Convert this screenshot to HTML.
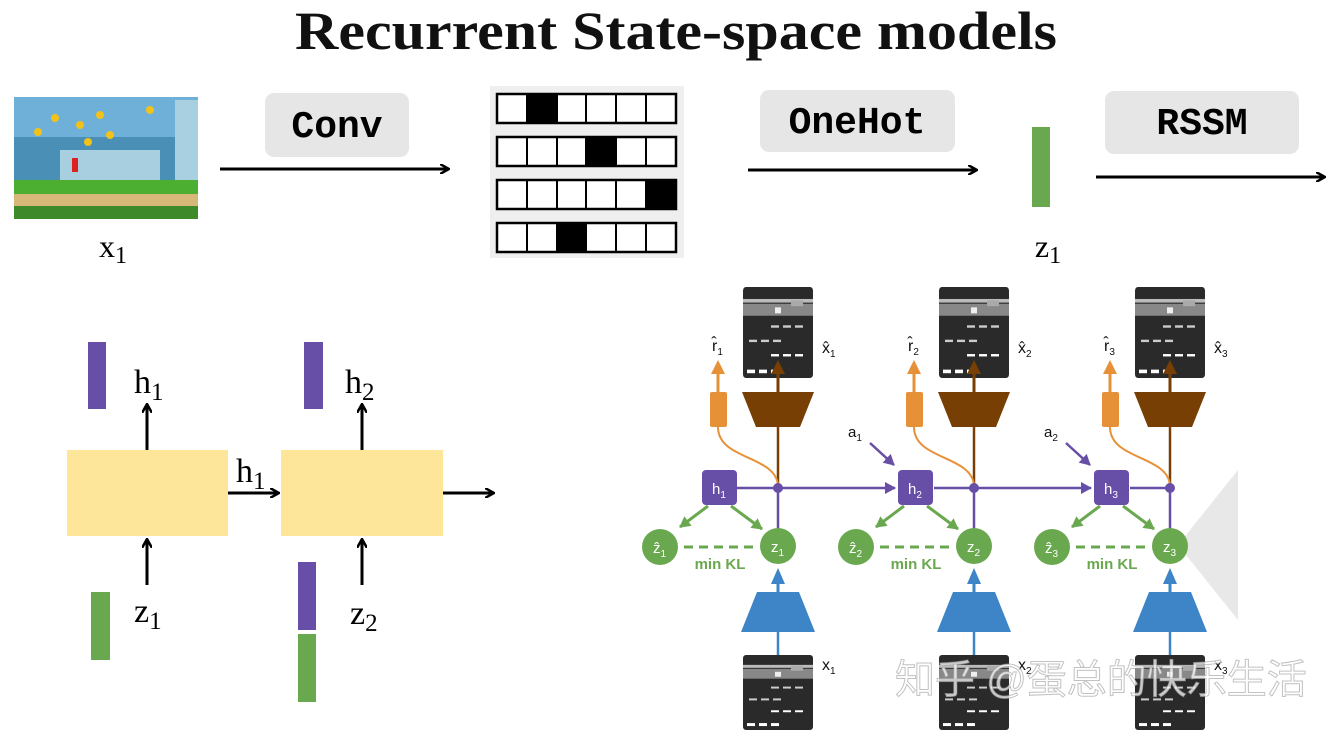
<!DOCTYPE html>
<html><head><meta charset="utf-8"><style>
html,body{margin:0;padding:0;background:#fff;width:1336px;height:736px;overflow:hidden}
svg{display:block}
.ser{font-family:"Liberation Serif","DejaVu Serif",serif}
.mono{font-family:"Liberation Mono","DejaVu Sans Mono",monospace;font-weight:bold}
.sans{font-family:"Liberation Sans","DejaVu Sans",sans-serif}
</style></head><body>
<svg width="1336" height="736" viewBox="0 0 1336 736" xmlns="http://www.w3.org/2000/svg">
<defs>
<marker id="ab" markerWidth="10" markerHeight="10" refX="8" refY="5" orient="auto" markerUnits="userSpaceOnUse"><path d="M0,0 L9,5 L0,10" fill="none" stroke="#000" stroke-width="2.5"/></marker>
<symbol id="scr" viewBox="0 0 70 76" preserveAspectRatio="none">
<rect x="0" y="0" width="70" height="76" rx="3" fill="#2a2a2a"/>
<rect x="0" y="10" width="70" height="3" fill="#bbb"/>
<rect x="0" y="14" width="70" height="10" fill="#888"/>
<rect x="48" y="11" width="12" height="5" fill="#aaa"/>
<rect x="32" y="17" width="6" height="5" fill="#eee"/>
<g fill="#ccc"><rect x="28" y="32" width="8" height="2"/><rect x="40" y="32" width="8" height="2"/><rect x="52" y="32" width="8" height="2"/>
<rect x="6" y="44" width="8" height="2"/><rect x="18" y="44" width="8" height="2"/><rect x="30" y="44" width="8" height="2"/>
<rect x="28" y="56" width="8" height="2" fill="#fff"/><rect x="40" y="56" width="8" height="2" fill="#fff"/><rect x="52" y="56" width="8" height="2" fill="#fff"/>
<rect x="4" y="69" width="8" height="3" fill="#fff"/><rect x="16" y="69" width="8" height="3" fill="#fff"/><rect x="28" y="69" width="8" height="3" fill="#fff"/></g>
</symbol>
</defs>

<text x="295" y="49" textLength="762" lengthAdjust="spacingAndGlyphs" class="ser" font-weight="bold" font-size="54" fill="#111">Recurrent State-space models</text>

<!-- Mario image -->
<rect x="14" y="97" width="184" height="122" fill="#4a8fb5"/>
<rect x="14" y="97" width="184" height="40" fill="#6fb0d8"/>
<rect x="60" y="150" width="100" height="30" fill="#a8cfe0"/>
<rect x="175" y="100" width="23" height="80" fill="#a8d0e0"/>
<rect x="14" y="180" width="184" height="14" fill="#4caf32"/>
<rect x="14" y="194" width="184" height="12" fill="#d8b878"/>
<rect x="14" y="206" width="184" height="13" fill="#3e8a2a"/>
<g fill="#f2c21a"><circle cx="38" cy="132" r="4"/><circle cx="55" cy="118" r="4"/><circle cx="80" cy="125" r="4"/><circle cx="110" cy="135" r="4"/><circle cx="100" cy="115" r="4"/><circle cx="150" cy="110" r="4"/><circle cx="88" cy="142" r="4"/></g>
<rect x="72" y="158" width="6" height="14" fill="#d22"/>
<text x="113" y="257" text-anchor="middle" class="ser" font-size="32">x<tspan font-size="24" dy="6">1</tspan></text>

<rect x="265" y="93" width="144" height="64" rx="9" fill="#e6e6e6"/>
<text x="337" y="137" text-anchor="middle" class="mono" font-size="38">Conv</text>
<line x1="220" y1="169" x2="448" y2="169" stroke="#000" stroke-width="3" marker-end="url(#ab)"/>

<rect x="490" y="86" width="194" height="172" fill="#efefef"/>
<g stroke="#000" stroke-width="2.5" fill="#fff">
<rect x="497" y="94" width="179" height="29"/>
<rect x="497" y="137" width="179" height="29"/>
<rect x="497" y="180" width="179" height="29"/>
<rect x="497" y="223" width="179" height="29"/>
</g>
<g fill="#000">
<rect x="527" y="94" width="30" height="29"/>
<rect x="586" y="137" width="30" height="29"/>
<rect x="646" y="180" width="30" height="29"/>
<rect x="556" y="223" width="30" height="29"/>
</g>
<g stroke="#000" stroke-width="2">
<path d="M527,94V123M557,94V123M586,94V123M616,94V123M646,94V123"/>
<path d="M527,137V166M557,137V166M586,137V166M616,137V166M646,137V166"/>
<path d="M527,180V209M557,180V209M586,180V209M616,180V209M646,180V209"/>
<path d="M527,223V252M557,223V252M586,223V252M616,223V252M646,223V252"/>
</g>

<rect x="760" y="90" width="195" height="62" rx="9" fill="#e6e6e6"/>
<text x="857" y="133" text-anchor="middle" class="mono" font-size="38">OneHot</text>
<line x1="748" y1="170" x2="976" y2="170" stroke="#000" stroke-width="3" marker-end="url(#ab)"/>
<rect x="1032" y="127" width="18" height="80" fill="#6aa84f"/>
<text x="1048" y="257" text-anchor="middle" class="ser" font-size="32">z<tspan font-size="24" dy="6">1</tspan></text>
<rect x="1105" y="91" width="194" height="63" rx="9" fill="#e6e6e6"/>
<text x="1202" y="134" text-anchor="middle" class="mono" font-size="38">RSSM</text>
<line x1="1096" y1="177" x2="1324" y2="177" stroke="#000" stroke-width="3" marker-end="url(#ab)"/>

<!-- bottom left -->
<rect x="88" y="342" width="18" height="67" fill="#674ea7"/>
<rect x="304" y="342" width="19" height="67" fill="#674ea7"/>
<rect x="67" y="450" width="161" height="86" fill="#fde69a"/>
<rect x="281" y="450" width="162" height="86" fill="#fde69a"/>
<g stroke="#000" stroke-width="3" marker-end="url(#ab)">
<line x1="147" y1="450" x2="147" y2="405"/>
<line x1="362" y1="450" x2="362" y2="405"/>
<line x1="147" y1="585" x2="147" y2="540"/>
<line x1="362" y1="585" x2="362" y2="540"/>
<line x1="228" y1="493" x2="278" y2="493"/>
<line x1="443" y1="493" x2="493" y2="493"/>
</g>
<g class="ser" font-size="34">
<text x="134" y="393">h<tspan font-size="25" dy="7">1</tspan></text>
<text x="345" y="393">h<tspan font-size="25" dy="7">2</tspan></text>
<text x="236" y="482">h<tspan font-size="25" dy="7">1</tspan></text>
<text x="134" y="622">z<tspan font-size="25" dy="7">1</tspan></text>
<text x="350" y="624">z<tspan font-size="25" dy="7">2</tspan></text>
</g>
<rect x="91" y="592" width="19" height="68" fill="#6aa84f"/>
<rect x="298" y="562" width="18" height="68" fill="#674ea7"/>
<rect x="298" y="634" width="18" height="68" fill="#6aa84f"/>

<polygon points="1178,545 1238,470 1238,620" fill="#e8e8e8"/>

<defs>
<marker id="ap" markerWidth="12" markerHeight="12" refX="10" refY="6" orient="auto" markerUnits="userSpaceOnUse"><path d="M0,0 L11,6 L0,12Z" fill="#674ea7"/></marker>
<marker id="ag" markerWidth="12" markerHeight="12" refX="10" refY="6" orient="auto" markerUnits="userSpaceOnUse"><path d="M0,0 L11,6 L0,12Z" fill="#6aa84f"/></marker>
</defs>
<line x1="737" y1="488" x2="895" y2="488" stroke="#674ea7" stroke-width="2.5" marker-end="url(#ap)"/>
<line x1="934" y1="488" x2="1091" y2="488" stroke="#674ea7" stroke-width="2.5" marker-end="url(#ap)"/>
<line x1="1130" y1="488" x2="1170" y2="488" stroke="#674ea7" stroke-width="2.5"/>
<line x1="870" y1="443" x2="894" y2="465" stroke="#674ea7" stroke-width="2.5" marker-end="url(#ap)"/>
<line x1="1066" y1="443" x2="1090" y2="465" stroke="#674ea7" stroke-width="2.5" marker-end="url(#ap)"/>
<g class="sans" font-size="15" fill="#111">
<text x="848" y="437">a<tspan font-size="10" dy="4">1</tspan></text>
<text x="1044" y="437">a<tspan font-size="10" dy="4">2</tspan></text>
</g>

<g id="col">
<use href="#scr" x="743" y="287" width="70" height="91"/>
<use href="#scr" x="743" y="655" width="70" height="75"/>
<line x1="718" y1="392" x2="718" y2="372" stroke="#e69138" stroke-width="3"/>
<polygon points="711,374 718,360 725,374" fill="#e69138"/>
<rect x="710" y="392" width="17" height="35" rx="2" fill="#e69138"/>
<line x1="778" y1="392" x2="778" y2="372" stroke="#783f04" stroke-width="3"/>
<polygon points="771,374 778,360 785,374" fill="#783f04"/>
<polygon points="742,392 814,392 800,427 756,427" fill="#783f04"/>
<line x1="778" y1="427" x2="778" y2="487" stroke="#783f04" stroke-width="2.5"/>
<path d="M718,427 C718,460 775,455 778,485" fill="none" stroke="#e69138" stroke-width="2"/>
<line x1="778" y1="488" x2="778" y2="530" stroke="#674ea7" stroke-width="2.5"/>
<circle cx="778" cy="488" r="5" fill="#674ea7"/>
<rect x="702" y="470" width="35" height="35" rx="4" fill="#674ea7"/>
<line x1="708" y1="506" x2="680" y2="527" stroke="#6aa84f" stroke-width="3" marker-end="url(#ag)"/>
<line x1="731" y1="506" x2="762" y2="529" stroke="#6aa84f" stroke-width="3" marker-end="url(#ag)"/>
<circle cx="660" cy="547" r="18" fill="#6aa84f"/>
<circle cx="778" cy="546" r="18" fill="#6aa84f"/>
<line x1="684" y1="547" x2="756" y2="547" stroke="#6aa84f" stroke-width="3" stroke-dasharray="9,6"/>
<text x="720" y="569" text-anchor="middle" class="sans" font-weight="bold" font-size="15" fill="#6aa84f">min KL</text>
<polygon points="757,592 799,592 815,632 741,632" fill="#3d85c6"/>
<line x1="778" y1="592" x2="778" y2="582" stroke="#3d85c6" stroke-width="3"/>
<polygon points="771,584 778,568 785,584" fill="#3d85c6"/>
<line x1="778" y1="632" x2="778" y2="655" stroke="#3d85c6" stroke-width="2.5"/>
</g>
<use href="#col" x="196"/>
<use href="#col" x="392"/>

<g class="sans" font-size="15" fill="#fff">
<text x="712" y="494">h<tspan font-size="10" dy="4">1</tspan></text>
<text x="908" y="494">h<tspan font-size="10" dy="4">2</tspan></text>
<text x="1104" y="494">h<tspan font-size="10" dy="4">3</tspan></text>
<text x="771" y="552">z<tspan font-size="10" dy="4">1</tspan></text>
<text x="967" y="552">z<tspan font-size="10" dy="4">2</tspan></text>
<text x="1163" y="552">z<tspan font-size="10" dy="4">3</tspan></text>
<text x="653" y="553">ẑ<tspan font-size="10" dy="4">1</tspan></text>
<text x="849" y="553">ẑ<tspan font-size="10" dy="4">2</tspan></text>
<text x="1045" y="553">ẑ<tspan font-size="10" dy="4">3</tspan></text>
</g>
<g class="sans" font-size="16" fill="#111">
<text x="712" y="351">r̂<tspan font-size="10" dy="4">1</tspan></text>
<text x="908" y="351">r̂<tspan font-size="10" dy="4">2</tspan></text>
<text x="1104" y="351">r̂<tspan font-size="10" dy="4">3</tspan></text>
<text x="822" y="353">x̂<tspan font-size="10" dy="4">1</tspan></text>
<text x="1018" y="353">x̂<tspan font-size="10" dy="4">2</tspan></text>
<text x="1214" y="353">x̂<tspan font-size="10" dy="4">3</tspan></text>
<text x="822" y="670">x<tspan font-size="10" dy="4">1</tspan></text>
<text x="1018" y="670">x<tspan font-size="10" dy="4">2</tspan></text>
<text x="1214" y="670">x<tspan font-size="10" dy="4">3</tspan></text>
</g>

<text x="895" y="693" font-family="'Liberation Sans','Noto Sans CJK SC',sans-serif" font-size="40" fill="#fff" fill-opacity="0.75" stroke="#999" stroke-width="1" stroke-opacity="0.6">知乎 @蛋总的快乐生活</text>
</svg>
</body></html>
